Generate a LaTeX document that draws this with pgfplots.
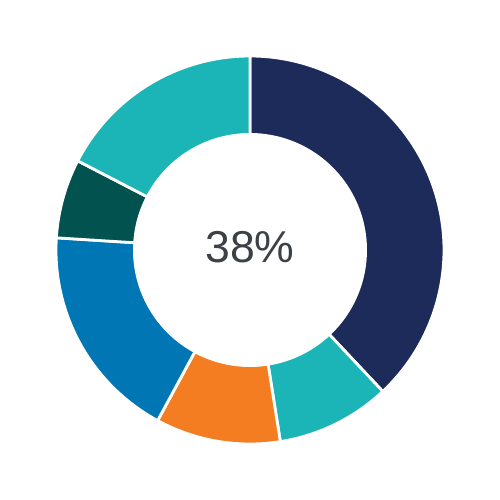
\documentclass[border=0pt]{standalone}
\usepackage{pgfplots}
\pgfplotsset{compat=1.18}
\usepackage{fontspec}
\setmainfont{Liberation Sans}

\definecolor{cnavy}{HTML}{1C2B5A}
\definecolor{cteal}{HTML}{1BB5B7}
\definecolor{corange}{HTML}{F47C21}
\definecolor{cblue}{HTML}{0076B5}
\definecolor{cdark}{HTML}{02534F}
\definecolor{ctext}{HTML}{3C4147}

% slice shares in percent, clockwise from 12 o'clock
\def\slices{38.0/cnavy, 9.5/cteal, 10.4/corange, 18.1/cblue, 6.6/cdark, 17.4/cteal}

\begin{document}
\begin{tikzpicture}
\begin{axis}[
    width=250pt, height=250pt, scale only axis,
    xmin=-250, xmax=250, ymin=-250, ymax=250,
    hide axis, clip=false,
]
\xdef\cum{0}
\foreach \v/\c in \slices {
    \pgfmathsetmacro\a{90-3.6*\cum}
    \pgfmathsetmacro\b{90-3.6*(\cum+\v)}
    \edef\temp{\noexpand\addplot[fill=\c, draw=white, line width=1.4pt,
        domain=\b:\a, samples=80, variable=\noexpand\t]
        ({194*cos(\noexpand\t)},{194*sin(\noexpand\t)}) -- (axis cs:0,0) -- cycle;}
    \temp
    \pgfmathsetmacro\n{\cum+\v}
    \xdef\cum{\n}
}
% hole
\addplot[fill=white, draw=none, domain=0:360, samples=150, variable=\t]
    ({117*cos(\t)},{117*sin(\t)}) -- cycle;
\node[anchor=base, text=ctext, font=\fontsize{22.3}{26}\selectfont, inner sep=0pt]
    at (axis cs:0,-12) {38\%};
\path (axis cs:-250,-250) rectangle (axis cs:250,250);
\end{axis}
\end{tikzpicture}
\end{document}
